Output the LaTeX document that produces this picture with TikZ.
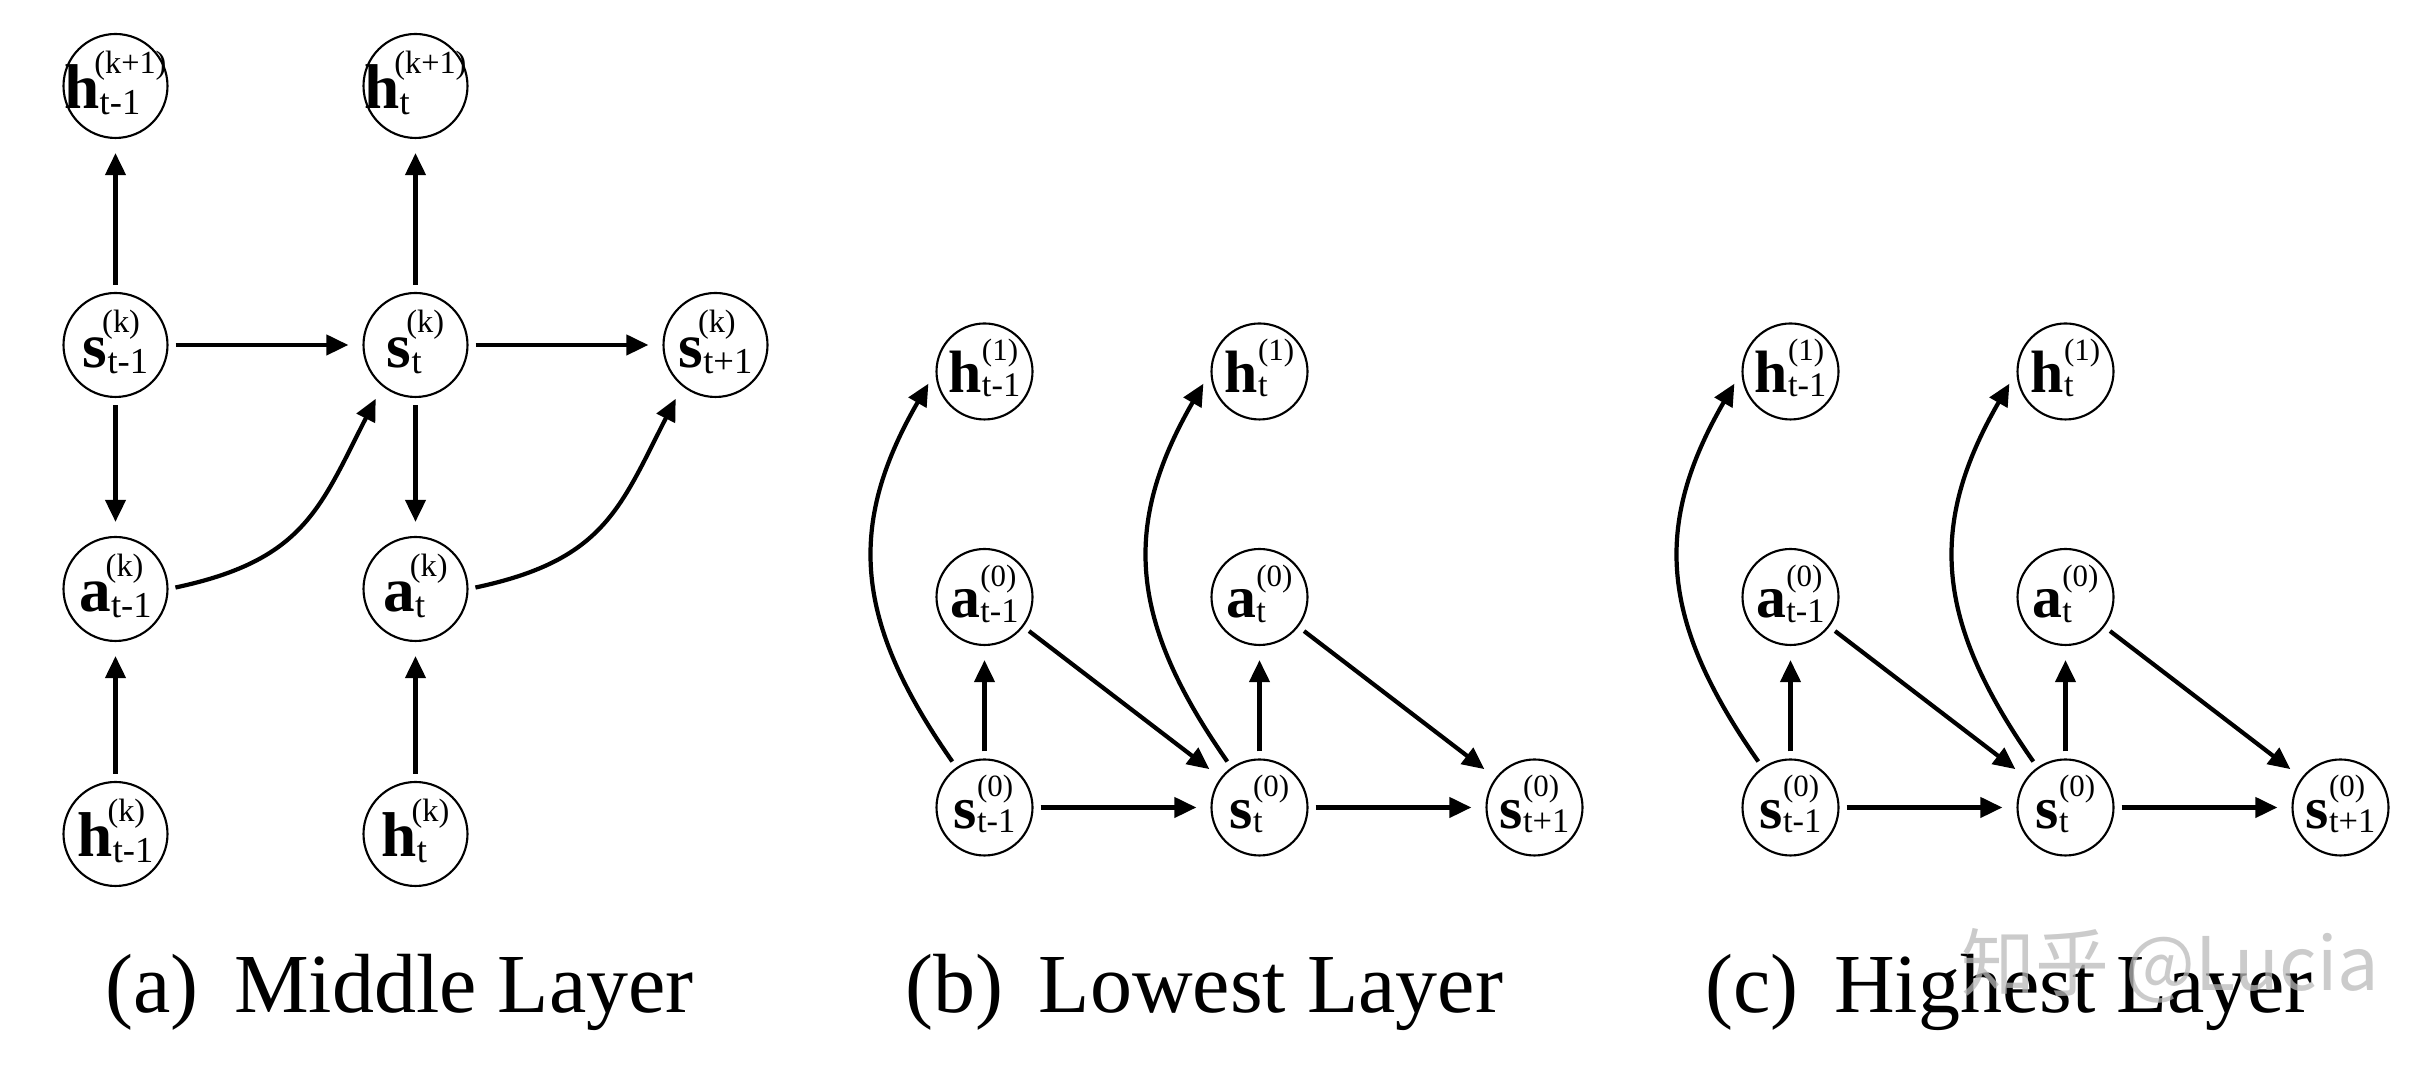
\documentclass[tikz,border=0pt]{standalone}
\usepackage{fontspec}
\setmainfont{Liberation Serif}
\newfontfamily\cjkfont{Noto Sans CJK SC}
\usetikzlibrary{arrows.meta}

% bold letter with stacked superscript and subscript
\newcommand{\lbl}[3]{\textbf{#1}\raisebox{-0.08em}{\subsz\begin{tabular}[b]{@{}l@{}}\hspace*{\supkern}{\supsz #3}\\#2\end{tabular}}}

\tikzset{
  vertexA/.style={circle, draw, line width=0.6pt, minimum size=1.04cm, inner sep=-5pt,
    font=\fontsize{18}{21}\selectfont\def\subsz{\fontsize{10.4}{11.4}\selectfont}%
      \def\supsz{\fontsize{9.2}{11}\selectfont}\def\supkern{-1.5pt}},
  vertexB/.style={circle, draw, line width=0.6pt, minimum size=0.96cm, inner sep=-4pt,
    font=\fontsize{17}{20}\selectfont\def\subsz{\fontsize{9.8}{10.3}\selectfont}%
      \def\supsz{\fontsize{8.8}{10.3}\selectfont}\def\supkern{0pt}},
  link/.style={-{Triangle[length=0.22cm,width=0.2cm]}, line width=1.2pt,
    shorten <=2pt, shorten >=4pt},
  caption/.style={anchor=base west, inner sep=0pt, font=\fontsize{23.9}{28}\selectfont}
}

\begin{document}
\begin{tikzpicture}
  \useasboundingbox (0,0) rectangle (24.36,10.66);
  \pgfmathsetmacro{\colGap}{2.75}

  % Middle layer
  \node[vertexA] (hTop1) at (1.155,9.80) {\lbl{h}{t-1}{(k+1)}};
  \node[vertexA] (hTop2) at (4.155,9.80) {\lbl{h}{t}{(k+1)}};
  \node[vertexA] (sA1) at (1.155,7.21) {\lbl{s}{t-1}{(k)}};
  \node[vertexA] (sA2) at (4.155,7.21) {\lbl{s}{t}{(k)}};
  \node[vertexA] (sA3) at (7.155,7.21) {\lbl{s}{t+1}{(k)}};
  \node[vertexA] (aA1) at (1.155,4.77) {\lbl{a}{t-1}{(k)}};
  \node[vertexA] (aA2) at (4.155,4.77) {\lbl{a}{t}{(k)}};
  \node[vertexA] (hBot1) at (1.155,2.32) {\lbl{h}{t-1}{(k)}};
  \node[vertexA] (hBot2) at (4.155,2.32) {\lbl{h}{t}{(k)}};

  \draw[link] (sA1) -- (hTop1);
  \draw[link] (sA2) -- (hTop2);
  \draw[link] (sA1) -- (sA2);
  \draw[link] (sA2) -- (sA3);
  \draw[link] (sA1) -- (aA1);
  \draw[link] (sA2) -- (aA2);
  \draw[link] (hBot1) -- (aA1);
  \draw[link] (hBot2) -- (aA2);
  \draw[link] (aA1.east) to[out=12,in=243,looseness=1.2] (sA2.231);
  \draw[link] (aA2.east) to[out=12,in=243,looseness=1.2] (sA3.231);

  % Lowest and highest layer
  \foreach \p/\xo in {B/9.845,C/17.905} {
    \node[vertexB] (h1\p) at (\xo,6.945) {\lbl{h}{t-1}{(1)}};
    \node[vertexB] (h2\p) at (\xo+\colGap,6.945) {\lbl{h}{t}{(1)}};
    \node[vertexB] (a1\p) at (\xo,4.69) {\lbl{a}{t-1}{(0)}};
    \node[vertexB] (a2\p) at (\xo+\colGap,4.69) {\lbl{a}{t}{(0)}};
    \node[vertexB] (s1\p) at (\xo,2.585) {\lbl{s}{t-1}{(0)}};
    \node[vertexB] (s2\p) at (\xo+\colGap,2.585) {\lbl{s}{t}{(0)}};
    \node[vertexB] (s3\p) at (\xo+2*\colGap,2.585) {\lbl{s}{t+1}{(0)}};

    \draw[link] (s1\p) -- (a1\p);
    \draw[link] (s2\p) -- (a2\p);
    \draw[link] (a1\p) -- (s2\p);
    \draw[link] (a2\p) -- (s3\p);
    \draw[link] (s1\p) -- (s2\p);
    \draw[link] (s2\p) -- (s3\p);
    \draw[link] (s1\p.125) to[out=125,in=240,looseness=1.15] (h1\p.west);
    \draw[link] (s2\p.125) to[out=125,in=240,looseness=1.15] (h2\p.west);
  }

  % Captions
  \node[caption] (capA) at (1.05,0.53) {(a)\hspace{0.42em}Middle Layer};
  \node[caption] (capB) at (9.05,0.53) {(b)\hspace{0.42em}Lowest Layer};
  \node[caption] (capC) at (17.05,0.53) {(c)\hspace{0.42em}Highest Layer};

  % Watermark
  \node[anchor=base west, inner sep=0pt, text=gray!55, opacity=0.75,
    font=\cjkfont\fontsize{21}{25}\selectfont] (mark) at (19.61,0.75) {知乎 @Lucia};
\end{tikzpicture}
\end{document}
